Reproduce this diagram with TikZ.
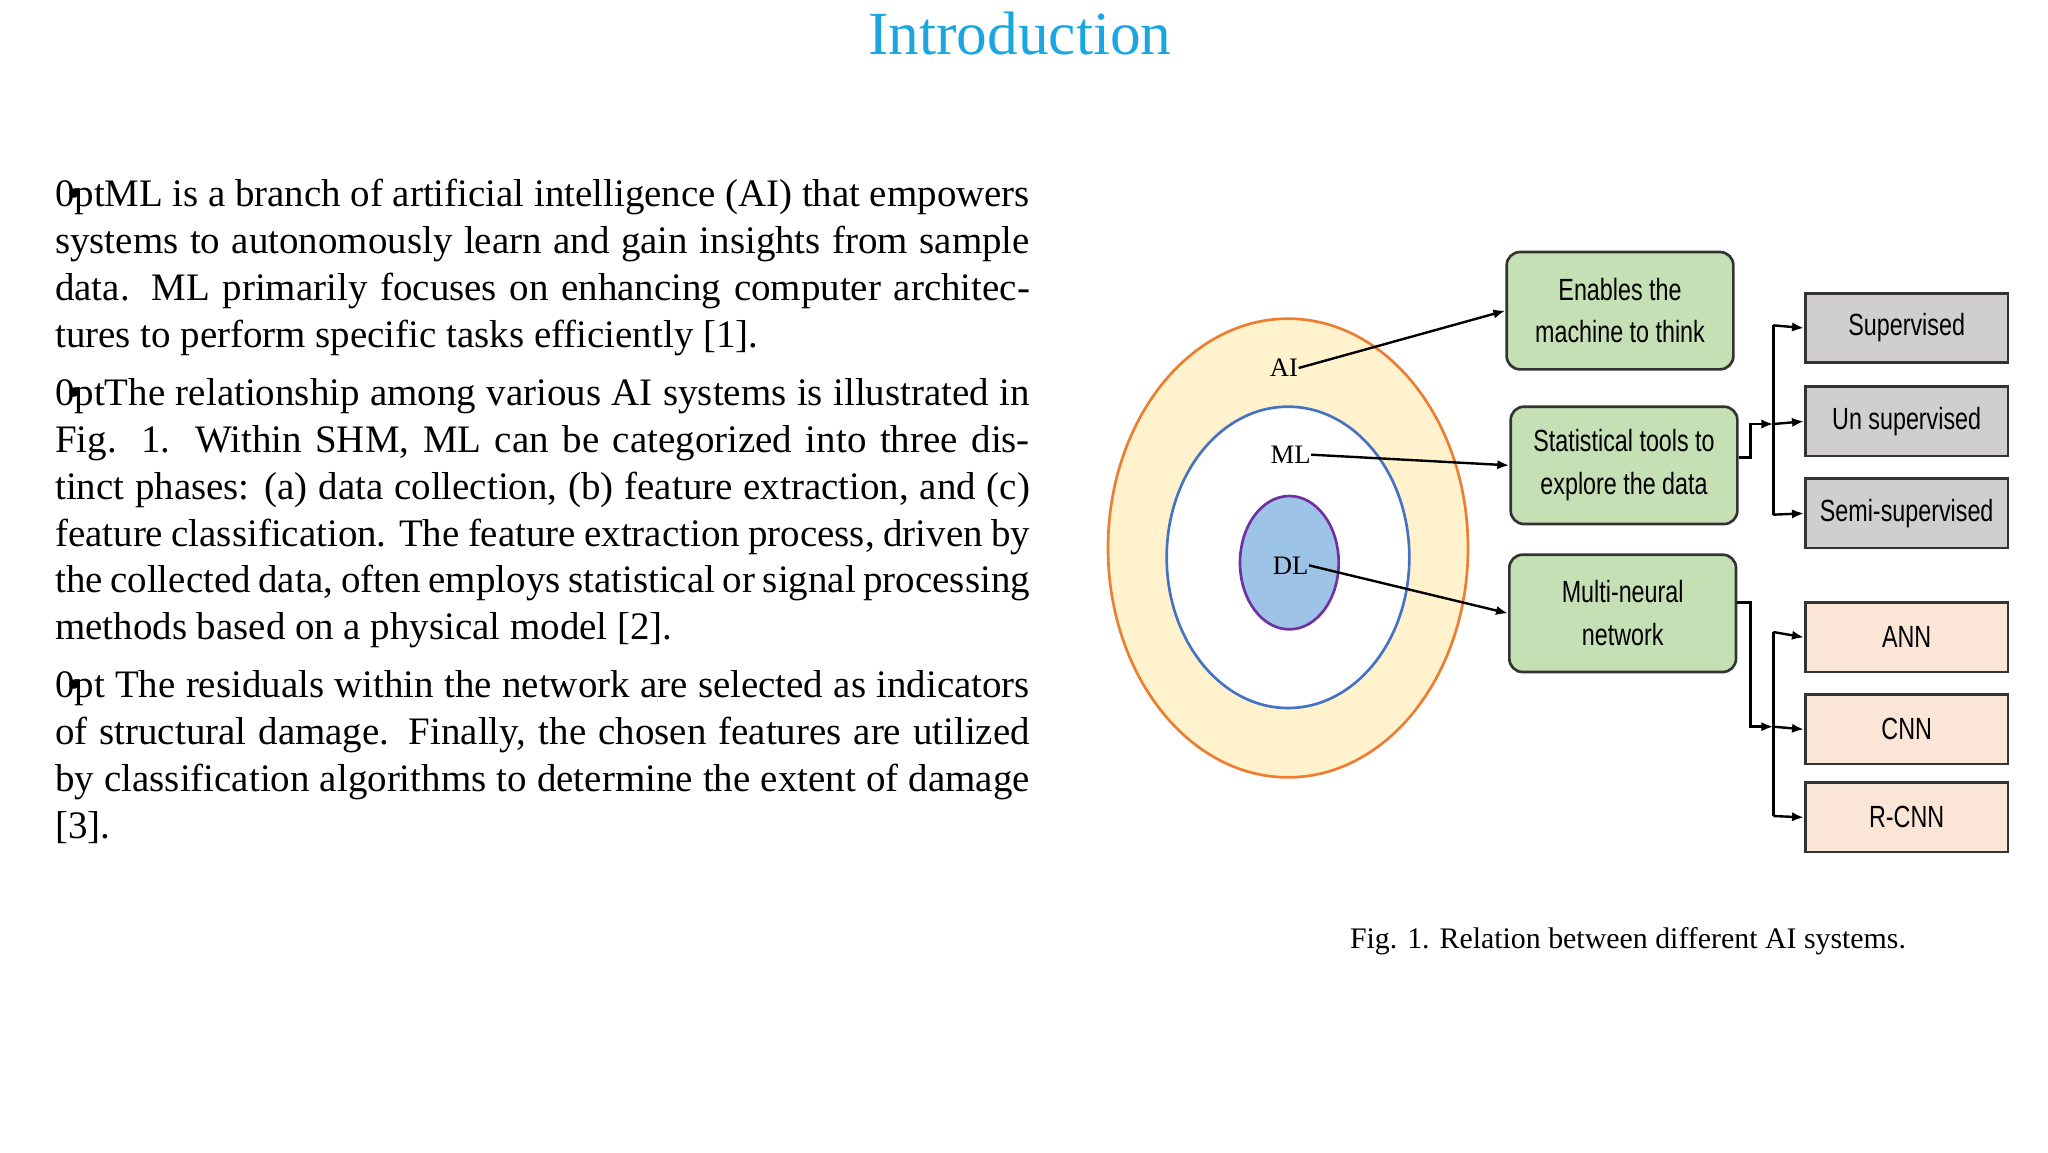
\documentclass[tikz,border=0pt]{standalone}
\usepackage{fontspec}
\setmainfont{Liberation Serif}
\newfontfamily\narrow{Liberation Sans}[FakeStretch=0.76]
\usetikzlibrary{arrows.meta,positioning}
\definecolor{titlec}{HTML}{1AA7E0}
\definecolor{grn}{HTML}{C5E0B4}
\definecolor{gry}{HTML}{D0CECE}
\definecolor{pnk}{HTML}{FBE5D6}
\definecolor{ylw}{HTML}{FFF2CC}
\definecolor{org}{HTML}{ED7D31}
\definecolor{blu}{HTML}{4472C4}
\definecolor{lblu}{HTML}{9DC3E6}
\definecolor{pur}{HTML}{7030A0}
\newcommand{\blt}{\leavevmode\llap{\textbullet\hspace{9pt}}}
\begin{document}
\begin{tikzpicture}[x=0.5pt,y=-0.5pt,
 para/.style={anchor=north west,text width=365.5pt,align=justify,inner sep=0,font=\fontsize{14.6}{17.6}\selectfont\hyphenpenalty=10000\exhyphenpenalty=10000\tolerance=9999\emergencystretch=40pt},
 gbox/.style={draw=black!80,line width=1pt,fill=grn,rounded corners=5pt,minimum width=85pt,minimum height=44pt,align=center,font=\narrow\fontsize{11.5}{16}\selectfont},
 sbox/.style={draw=black!80,line width=1pt,minimum width=76pt,minimum height=26pt,align=center,font=\narrow\fontsize{11.5}{14}\selectfont},
 arr/.style={-{Latex[length=4.5pt,width=3.5pt]},line width=0.9pt},
 lab/.style={font=\fontsize{10}{12}\selectfont,inner sep=0}]
\useasboundingbox (0,0) rectangle (1536,864);
\node[text=titlec,font=\fontsize{23}{26}\selectfont] (title) at (765,25) {Introduction};
\node[para] (t1) at (41,134) {\blt ML is a branch of artificial intelligence (AI) that empowers systems to autonomously learn and gain insights from sample data. ML primarily focuses on enhancing computer architectures to perform specific tasks efficiently [1].};
\node[para,below=8pt of t1.south west,anchor=north west] (t2) {\blt The relationship among various AI systems is illustrated in Fig. 1. Within SHM, ML can be categorized into three distinct phases: (a) data collection, (b) feature extraction, and (c) feature classification. The feature extraction process, driven by the collected data, often employs statistical or signal processing methods based on a physical model [2].};
\node[para,below=8pt of t2.south west,anchor=north west] (t3) {\blt \ The residuals within the network are selected as indicators of structural damage. Finally, the chosen features are utilized by classification algorithms to determine the extent of damage [3].};
% circles
\draw[org,line width=1pt,fill=ylw] (966,411) ellipse [x radius=135,y radius=172];
\draw[blu,line width=1pt,fill=white] (966,418) ellipse [x radius=91,y radius=113];
\draw[pur,line width=1pt,fill=lblu] (967,422) ellipse [x radius=37,y radius=50];
\node[lab] (ai) at (963,276) {AI};
\node[lab] (ml) at (968,341) {ML};
\node[lab] (dl) at (968,424) {DL};
\node[gbox] (b1) at (1215,233) {Enables the\\machine to think};
\node[gbox] (b2) at (1218,349) {Statistical tools to\\explore the data};
\node[gbox] (b3) at (1217,460) {Multi-neural\\network};
\draw[arr] (ai.east) -- (b1.west);
\draw[arr] (ml.east) -- (b2.west);
\draw[arr] (dl.east) -- (b3.west);
\node[sbox,fill=gry] (s1) at (1430,246) {Supervised};
\node[sbox,fill=gry] (s2) at (1430,316) {Un supervised};
\node[sbox,fill=gry] (s3) at (1430,385) {Semi-supervised};
\node[sbox,fill=pnk] (p1) at (1430,478) {ANN};
\node[sbox,fill=pnk] (p2) at (1430,547) {CNN};
\node[sbox,fill=pnk] (p3) at (1430,613) {R-CNN};
\coordinate (j1) at (1330,318);
\coordinate (j2) at (1330,545);
\draw[arr] (b2.east |- 0,343) -- (1313,343) -- (1313,318) -- (j1);
\draw[line width=0.9pt] (1330,244) -- (1330,386);
\draw[arr] (1330,244) -- (s1.west);
\draw[arr] (j1) -- (s2.west);
\draw[arr] (1330,386) -- (s3.west);
\draw[arr] (b3.east |- 0,452) -- (1313,452) -- (1313,545) -- (j2);
\draw[line width=0.9pt] (1330,474) -- (1330,612);
\draw[arr] (1330,474) -- (p1.west);
\draw[arr] (j2) -- (p2.west);
\draw[arr] (1330,612) -- (p3.west);
\node[font=\fontsize{11.2}{13}\selectfont] (cap) at (1221,706) {Fig. 1. Relation between different AI systems.};
\end{tikzpicture}
\end{document}
